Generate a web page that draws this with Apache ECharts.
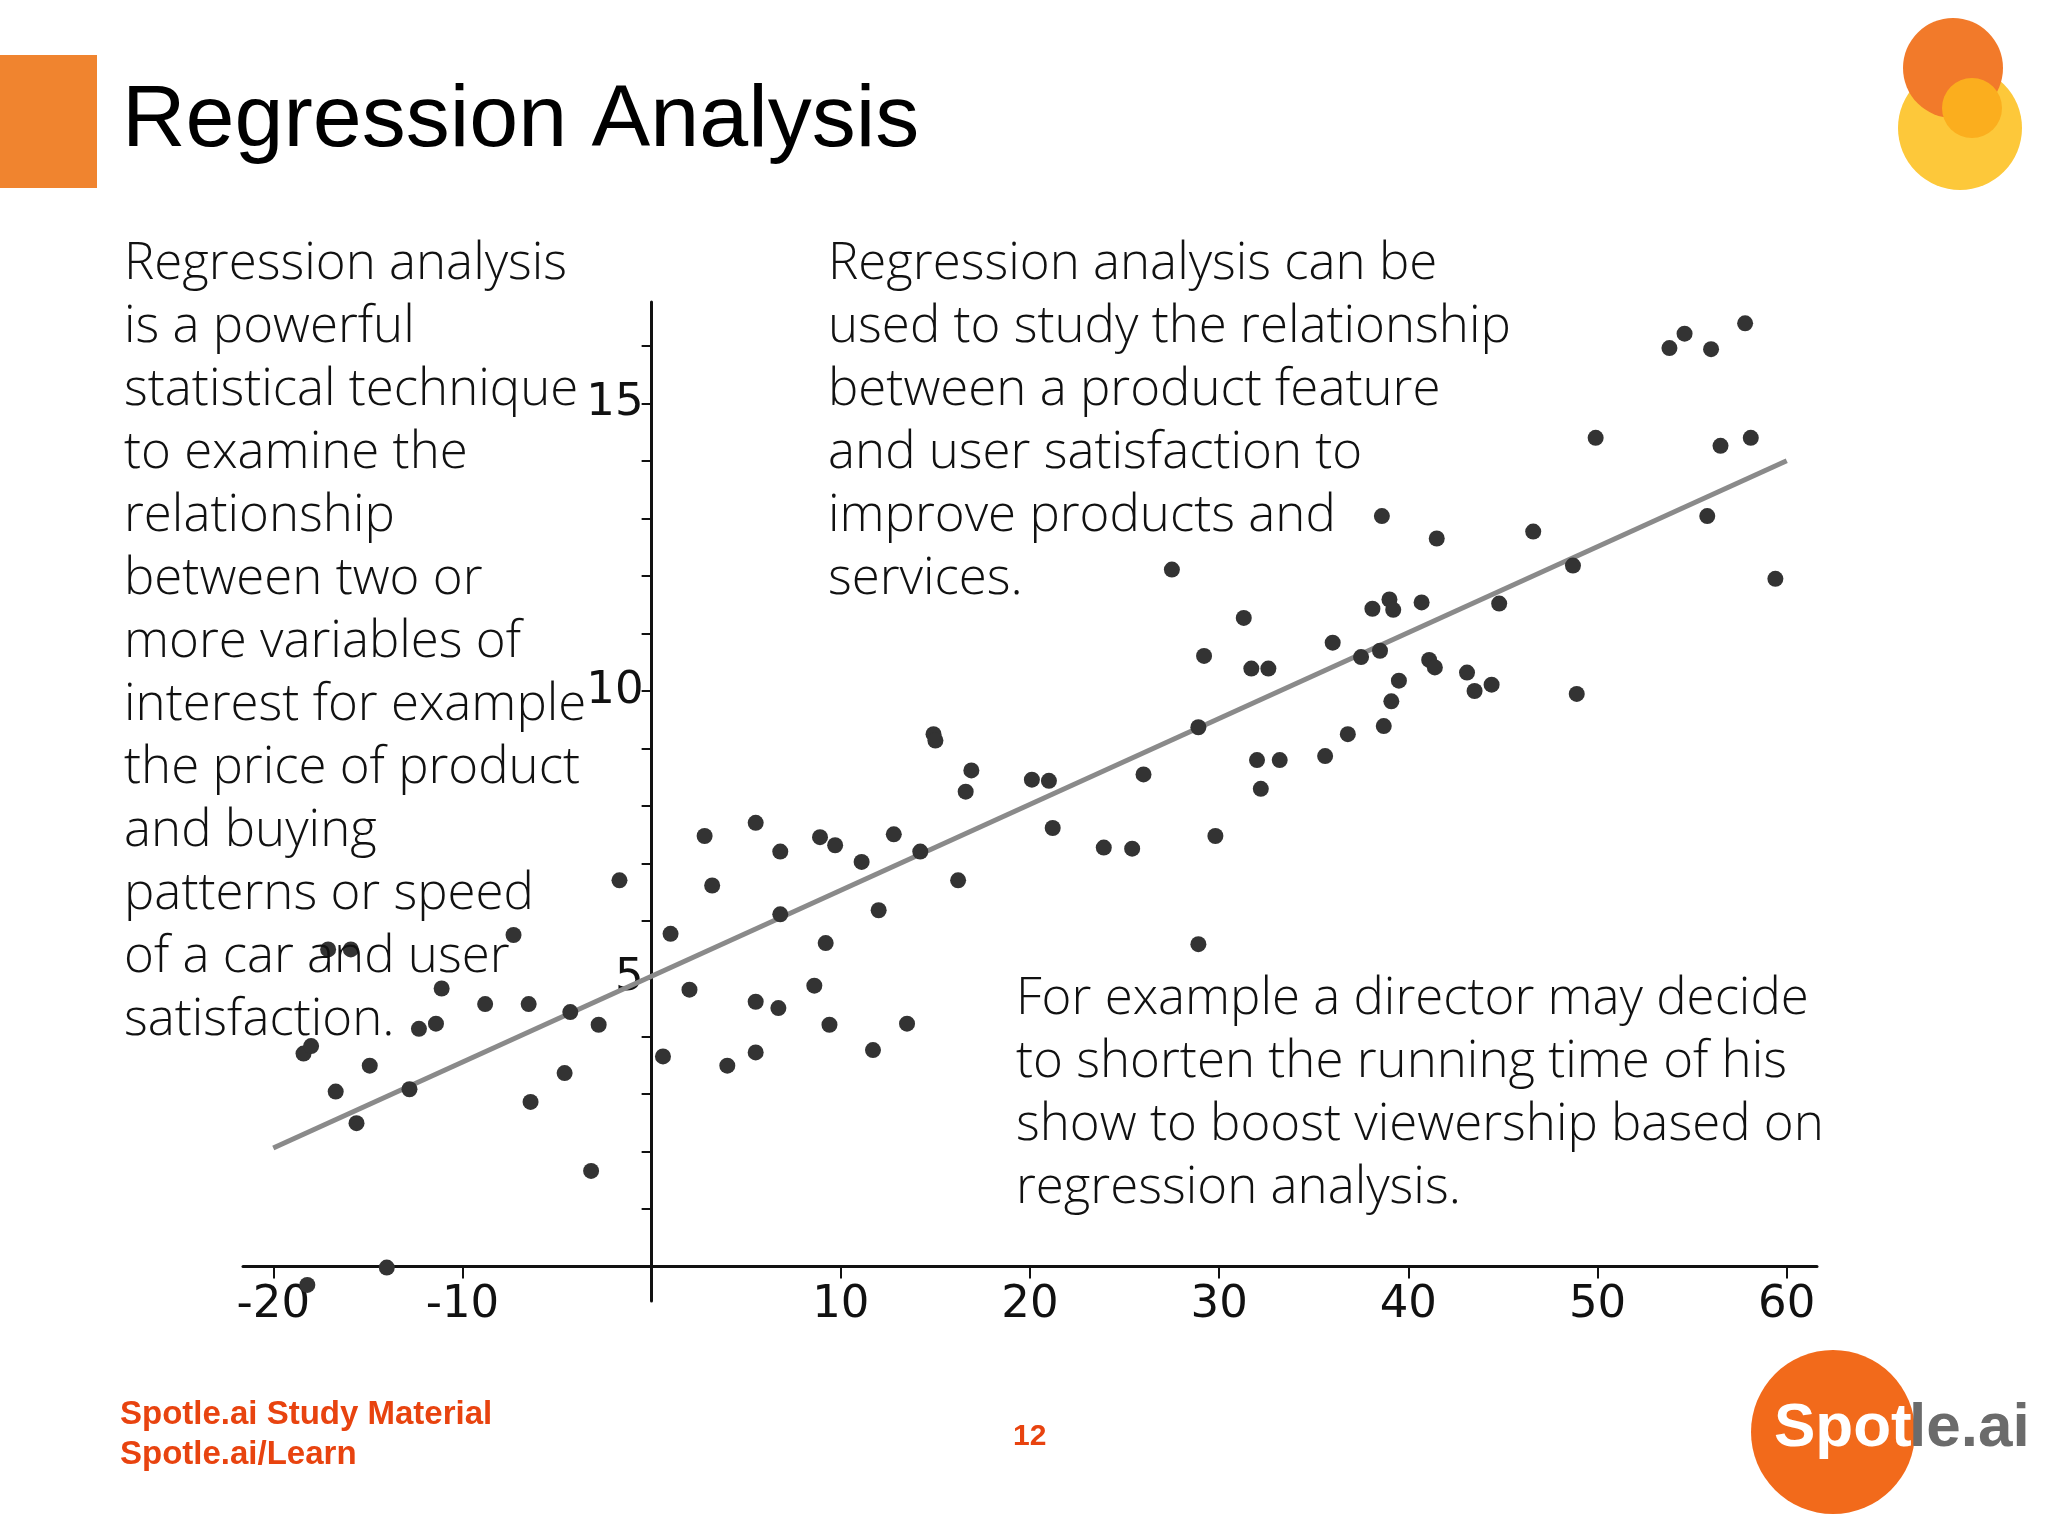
<!DOCTYPE html>
<html>
<head>
<meta charset="utf-8">
<script src="https://cdn.jsdelivr.net/npm/echarts@6/dist/echarts.min.js"></script>
<style>html,body{margin:0;padding:0;background:#fff}#c{width:2048px;height:1536px}</style>
</head>
<body>
<div id="c"></div>
<script>
// scatter points [x, y]
const points = [
  [-18.4, 3.70], [-18.0, 3.83], [-16.7, 3.04], [-17.1, 5.51], [-15.9, 5.51], [-15.6, 2.49],
  [-14.9, 3.49], [-18.2, -0.32], [-14.0, -0.02], [-12.8, 3.08], [-12.3, 4.13], [-11.4, 4.22],
  [-11.1, 4.83], [-8.8, 4.56], [-7.3, 5.76], [-6.5, 4.56], [-6.4, 2.86], [-4.6, 3.36],
  [-4.3, 4.42], [-3.2, 1.66], [-2.8, 4.20], [-1.7, 6.71], [0.6, 3.65], [1.0, 5.78],
  [2.0, 4.81], [2.8, 7.48], [3.2, 6.62], [4.0, 3.49], [5.5, 7.71], [5.5, 4.60],
  [5.5, 3.72], [6.7, 4.49], [6.8, 7.21], [6.8, 6.12], [8.6, 4.88], [8.9, 7.46],
  [9.2, 5.62], [9.4, 4.20], [9.7, 7.32], [11.1, 7.03], [11.7, 3.76], [12.0, 6.19],
  [12.8, 7.51], [13.5, 4.22], [14.2, 7.21], [14.9, 9.25], [15.0, 9.14], [16.2, 6.71],
  [16.6, 8.25], [16.9, 8.62], [20.1, 8.46], [21.0, 8.44], [21.2, 7.62], [23.9, 7.28],
  [25.4, 7.26], [26.0, 8.55], [27.5, 12.11], [28.9, 5.60], [28.9, 9.37], [29.2, 10.61],
  [29.8, 7.48], [31.3, 11.27], [31.7, 10.39], [32.0, 8.80], [32.2, 8.30], [32.6, 10.39],
  [33.2, 8.80], [35.6, 8.87], [36.0, 10.84], [36.8, 9.25], [37.5, 10.59], [38.1, 11.43],
  [38.5, 10.70], [38.6, 13.04], [38.7, 9.39], [39.0, 11.59], [39.2, 11.41], [39.1, 9.82],
  [39.5, 10.18], [40.7, 11.54], [41.1, 10.54], [41.4, 10.41], [41.5, 12.65], [43.1, 10.32],
  [43.5, 10.00], [44.4, 10.11], [44.8, 11.52], [46.6, 12.77], [48.7, 12.18], [48.9, 9.95],
  [49.9, 14.40], [53.8, 15.96], [54.6, 16.21], [55.8, 13.04], [56.0, 15.94], [56.5, 14.26],
  [57.8, 16.39], [58.1, 14.40], [59.4, 11.95]
];
// fitted regression line end points
const regressionLine = [[-20, 2.06], [60, 14.0]];
const xTickLabels = [-20, -10, 10, 20, 30, 40, 50, 60];
const yTickLabels = [5, 10, 15];

const leftText = ['Regression analysis', 'is a powerful', 'statistical technique', 'to examine the',
  'relationship', 'between two or', 'more variables of', 'interest for example', 'the price of product',
  'and buying', 'patterns or speed', 'of a car and user', 'satisfaction.'];
const midText = ['Regression analysis can be', 'used to study the relationship', 'between a product feature',
  'and user satisfaction to', 'improve products and', 'services.'];
const rightText = ['For example a director may decide', 'to shorten the running time of his',
  'show to boost viewership based on', 'regression analysis.'];

const bodyFont = '300 51px "Open Sans", "Liberation Sans", sans-serif';
function textBlock(lines, x, y0, step) {
  return lines.map((t, i) => ({
    type: 'text', left: x, top: y0 + i * step - 24, z: 10,
    style: { text: t, font: bodyFont, fill: '#111' }
  }));
}

const X_MIN = -21.6, X_MAX = 61.6, GRID_L = 243, GRID_R = 231;
const yAxisOffset = -(0 - X_MIN) / (X_MAX - X_MIN) * (2048 - GRID_L - GRID_R);

const chart = echarts.init(document.getElementById('c'));
chart.setOption({
  animation: false,
  grid: { left: GRID_L, right: GRID_R, top: 302, bottom: 235 },
  xAxis: {
    type: 'value', min: X_MIN, max: X_MAX,
    axisLine: { onZero: true, lineStyle: { color: '#111', width: 3 } },
    axisTick: { customValues: [-20, -10, 0, 10, 20, 30, 40, 50, 60], length: 12, lineStyle: { color: '#111', width: 2 } },
    axisLabel: { customValues: xTickLabels, fontSize: 45, color: '#111', fontFamily: 'DejaVu Sans', margin: -18 },
    splitLine: { show: false }
  },
  yAxis: {
    type: 'value', min: -0.6, max: 16.76, offset: yAxisOffset,
    axisLine: { onZero: false, lineStyle: { color: '#111', width: 3 } },
    axisTick: { customValues: [1,2,3,4,5,6,7,8,9,10,11,12,13,14,15,16], length: 10, lineStyle: { color: '#111', width: 2 } },
    axisLabel: { customValues: yTickLabels, fontSize: 45, color: '#111', fontFamily: 'DejaVu Sans', margin: 8 },
    splitLine: { show: false }
  },
  series: [
    {
      type: 'line', data: regressionLine, symbol: 'none', z: 2,
      lineStyle: { color: '#8a8a8a', width: 5 }
    },
    {
      type: 'scatter', data: points, symbolSize: 16, z: 3,
      itemStyle: { color: '#333', opacity: 1 }
    }
  ],
  graphic: [
    { type: 'rect', shape: { x: 0, y: 55, width: 97, height: 133 }, style: { fill: '#F0842F' } },
    { type: 'text', left: 122, top: 78, style: { text: 'Regression Analysis', font: '88px "Liberation Sans", Arial, sans-serif', fill: '#000' } },
    { type: 'circle', shape: { cx: 1960, cy: 128, r: 62 }, style: { fill: '#FDC83A' } },
    { type: 'circle', shape: { cx: 1953, cy: 68, r: 50 }, style: { fill: '#F27A2A' } },
    { type: 'circle', shape: { cx: 1972, cy: 108, r: 30 }, style: { fill: '#FBAE1E' } },
    ...textBlock(leftText, 124, 263, 63),
    ...textBlock(midText, 828, 263, 63),
    ...textBlock(rightText, 1016, 998, 63),
    { type: 'text', left: 120, top: 1398, style: { text: 'Spotle.ai Study Material', font: 'bold 33px "Liberation Sans", Arial, sans-serif', fill: '#E8430F' } },
    { type: 'text', left: 120, top: 1438, style: { text: 'Spotle.ai/Learn', font: 'bold 33px "Liberation Sans", Arial, sans-serif', fill: '#E8430F' } },
    { type: 'text', left: 1013, top: 1422, style: { text: '12', font: 'bold 30px "Liberation Sans", Arial, sans-serif', fill: '#E8430F' } },
    { type: 'circle', shape: { cx: 1833, cy: 1432, r: 82 }, style: { fill: '#F26A1B' } },
    { type: 'text', left: 1774, top: 1398, z: 11, style: { text: 'Spot', font: 'bold 62px "Liberation Sans", Arial, sans-serif', fill: '#fff' } },
    { type: 'text', left: 1909, top: 1398, z: 11, style: { text: 'le.ai', font: 'bold 62px "Liberation Sans", Arial, sans-serif', fill: '#6b6b6b' } }
  ]
});
</script>
</body>
</html>
